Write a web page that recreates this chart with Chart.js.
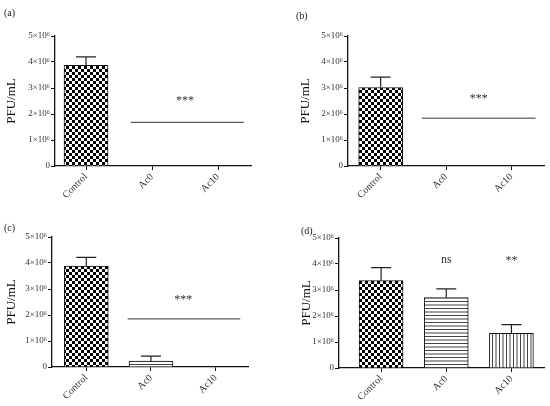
<!DOCTYPE html>
<html>
<head>
<meta charset="utf-8">
<script src="https://cdn.jsdelivr.net/npm/chart.js@4.4.1/dist/chart.umd.min.js"></script>
<style>
  body { margin: 0; background: #fff; }
  #wrap { position: relative; width: 550px; height: 406px; overflow: hidden; }
  #wrap canvas { position: absolute; }
  .plabel { position: absolute; font: 10px "Liberation Serif", serif; color: #222; line-height: 1; }
</style>
</head>
<body>
<div id="wrap"></div>
<script>
// Data
const categories = ['Control', 'Ac0', 'Ac10'];
const yTicks = [0, 1e6, 2e6, 3e6, 4e6, 5e6];
const yTickLabels = ['0', '1×10⁶', '2×10⁶', '3×10⁶', '4×10⁶', '5×10⁶'];
const panelNames = ['(a)', '(b)', '(c)', '(d)'];

const meanA = [3.87e6, 0, 0];
const sdA = [0.33e6, 0, 0];
const meanB = [3.02e6, 0, 0];
const sdB = [0.40e6, 0, 0];
const meanC = [3.88e6, 0.23e6, 0];
const sdC = [0.34e6, 0.19e6, 0];
const meanD = [3.36e6, 2.71e6, 1.33e6];
const sdD = [0.50e6, 0.33e6, 0.34e6];

// significance bars (category units) and marks
const sigLineA = [{ from: 0.68, to: 2.39, y: 1.68e6 }];
const sigLineB = [{ from: 0.63, to: 2.37, y: 1.84e6 }];
const sigLineC = [{ from: 0.64, to: 2.38, y: 1.85e6 }];
const sigLineD = [];
const sigTextA = [{ text: '***', x: 1.5, y: 2.38e6 }];
const sigTextB = [{ text: '***', x: 1.5, y: 2.46e6 }];
const sigTextC = [{ text: '***', x: 1.5, y: 2.45e6 }];
const sigTextD = [{ text: 'ns', x: 1, y: 4.03e6 }, { text: '**', x: 2, y: 3.99e6 }];

const FONT = '"Liberation Serif", "Times New Roman", serif';

function makePattern(ctx, kind) {
    const c = document.createElement('canvas');
    const g = c.getContext('2d');
    if (kind === 'check') {
        c.width = c.height = 6;
        g.fillStyle = '#fff'; g.fillRect(0, 0, 6, 6);
        g.fillStyle = '#000'; g.fillRect(0, 0, 3, 3); g.fillRect(3, 3, 3, 3);
    } else if (kind === 'h') {
        c.width = 4; c.height = 7;
        g.fillStyle = '#fff'; g.fillRect(0, 0, 4, 7);
        g.fillStyle = '#444'; g.fillRect(0, 0, 4, 1); g.fillRect(0, 3.5, 4, 1);
    } else {
        c.width = 7; c.height = 4;
        g.fillStyle = '#fff'; g.fillRect(0, 0, 7, 4);
        g.fillStyle = '#444'; g.fillRect(0, 0, 1, 4); g.fillRect(3.5, 0, 1, 4);
    }
    return ctx.createPattern(c, 'repeat');
}

function makePanel(p) {
    const wrap = document.getElementById('wrap');
    const canvas = document.createElement('canvas');
    canvas.width = 275; canvas.height = 203;
    canvas.style.left = p.left + 'px';
    canvas.style.top = p.top + 'px';
    wrap.appendChild(canvas);

    const lab = document.createElement('div');
    lab.className = 'plabel';
    lab.textContent = p.name;
    lab.style.left = (p.left + p.labelX) + 'px';
    lab.style.top = (p.top + p.labelY) + 'px';
    wrap.appendChild(lab);

    const ctx = canvas.getContext('2d');
    const fills = p.fills.map(k => makePattern(ctx, k));

    return new Chart(ctx, {
        type: 'bar',
        data: {
            datasets: [{
                data: p.means.map((v, i) => ({ x: i, y: v })),
                backgroundColor: fills,
                borderColor: '#111',
                borderWidth: 1,
                borderSkipped: 'start',
                barThickness: 44
            }]
        },
        options: {
            responsive: false,
            animation: false,
            layout: { padding: { left: p.padLeft, top: p.padTop, right: p.padRight, bottom: 0 } },
            plugins: { legend: { display: false }, tooltip: { enabled: false } },
            scales: {
                x: {
                    type: 'linear',
                    offset: false,
                    min: p.xMin,
                    max: 2.5,
                    afterBuildTicks: axis => { axis.ticks = categories.map((c, i) => ({ value: i })); },
                    afterFit: axis => {
                        axis.height = p.xH;
                        axis.paddingLeft = 0;
                        axis.paddingRight = 0;
                    },
                    ticks: {
                        callback: v => categories[v],
                        autoSkip: false,
                        maxRotation: 45,
                        minRotation: 45,
                        padding: 1,
                        color: '#333',
                        font: { family: FONT, size: 10 }
                    },
                    grid: { offset: false, drawOnChartArea: false, drawTicks: true, tickLength: 4, color: '#111' },
                    border: { color: '#111', width: 1.3 }
                },
                y: {
                    min: 0,
                    max: 5e6,
                    afterBuildTicks: axis => { axis.ticks = yTicks.map(v => ({ value: v })); },
                    afterFit: axis => {
                        axis.width = p.yW;
                        axis.paddingTop = 0;
                        axis.paddingBottom = 0;
                    },
                    ticks: {
                        callback: (v, i) => yTickLabels[i],
                        padding: 1,
                        color: '#333',
                        font: { family: FONT, size: 9 }
                    },
                    grid: { drawOnChartArea: false, drawTicks: true, tickLength: 4, color: '#111' },
                    border: { color: '#111', width: 1.3 },
                    title: {
                        display: true,
                        text: 'PFU/mL',
                        color: '#111',
                        font: { family: FONT, size: 13 },
                        padding: { top: 4, bottom: 0 }
                    }
                }
            }
        },
        plugins: [{
            id: 'errorsAndSig',
            afterDatasetsDraw: (chart) => {
                const { ctx } = chart;
                const xs = chart.scales.x, ys = chart.scales.y;
                const bars = chart.getDatasetMeta(0).data;
                ctx.save();
                ctx.strokeStyle = '#222';
                ctx.lineWidth = 1.2;
                // error bars (upper whisker only)
                p.sds.forEach((sd, i) => {
                    if (!sd) return;
                    const x = bars[i].x;
                    const yb = ys.getPixelForValue(p.means[i]);
                    const yt = ys.getPixelForValue(p.means[i] + sd);
                    ctx.beginPath();
                    ctx.moveTo(x, yb); ctx.lineTo(x, yt);
                    ctx.moveTo(x - 10, yt); ctx.lineTo(x + 10, yt);
                    ctx.stroke();
                });
                // significance lines
                ctx.strokeStyle = '#333';
                ctx.lineWidth = 1;
                p.sigLines.forEach(s => {
                    const y = ys.getPixelForValue(s.y);
                    ctx.beginPath();
                    ctx.moveTo(xs.getPixelForValue(s.from), y);
                    ctx.lineTo(xs.getPixelForValue(s.to), y);
                    ctx.stroke();
                });
                ctx.fillStyle = '#333';
                ctx.font = '12px ' + FONT;
                ctx.textAlign = 'center';
                ctx.textBaseline = 'alphabetic';
                p.sigTexts.forEach(s => {
                    ctx.fillText(s.text, xs.getPixelForValue(s.x), ys.getPixelForValue(s.y));
                });
                ctx.restore();
            }
        }]
    });
}

makePanel({ name: panelNames[0], left: 0, top: 0, labelX: 4, labelY: 8,
    means: meanA, sds: sdA, fills: ['check', 'h', 'v'], sigLines: sigLineA, sigTexts: sigTextA,
    padLeft: 0, yW: 55, padTop: 36, padRight: 24, xH: 37, xMin: -0.47 });
makePanel({ name: panelNames[1], left: 275, top: 0, labelX: 21, labelY: 11,
    means: meanB, sds: sdB, fills: ['check', 'h', 'v'], sigLines: sigLineB, sigTexts: sigTextB,
    padLeft: 19, yW: 54, padTop: 36, padRight: 6, xH: 37, xMin: -0.5 });
makePanel({ name: panelNames[2], left: 0, top: 203, labelX: 4, labelY: 20,
    means: meanC, sds: sdC, fills: ['check', 'h', 'v'], sigLines: sigLineC, sigTexts: sigTextC,
    padLeft: 0, yW: 52, padTop: 34, padRight: 27, xH: 39, xMin: -0.53 });
makePanel({ name: panelNames[3], left: 275, top: 203, labelX: 26, labelY: 23,
    means: meanD, sds: sdD, fills: ['check', 'h', 'v'], sigLines: sigLineD, sigTexts: sigTextD,
    padLeft: 20, yW: 44, padTop: 35, padRight: 6, xH: 38, xMin: -0.646 });
</script>
</body>
</html>
